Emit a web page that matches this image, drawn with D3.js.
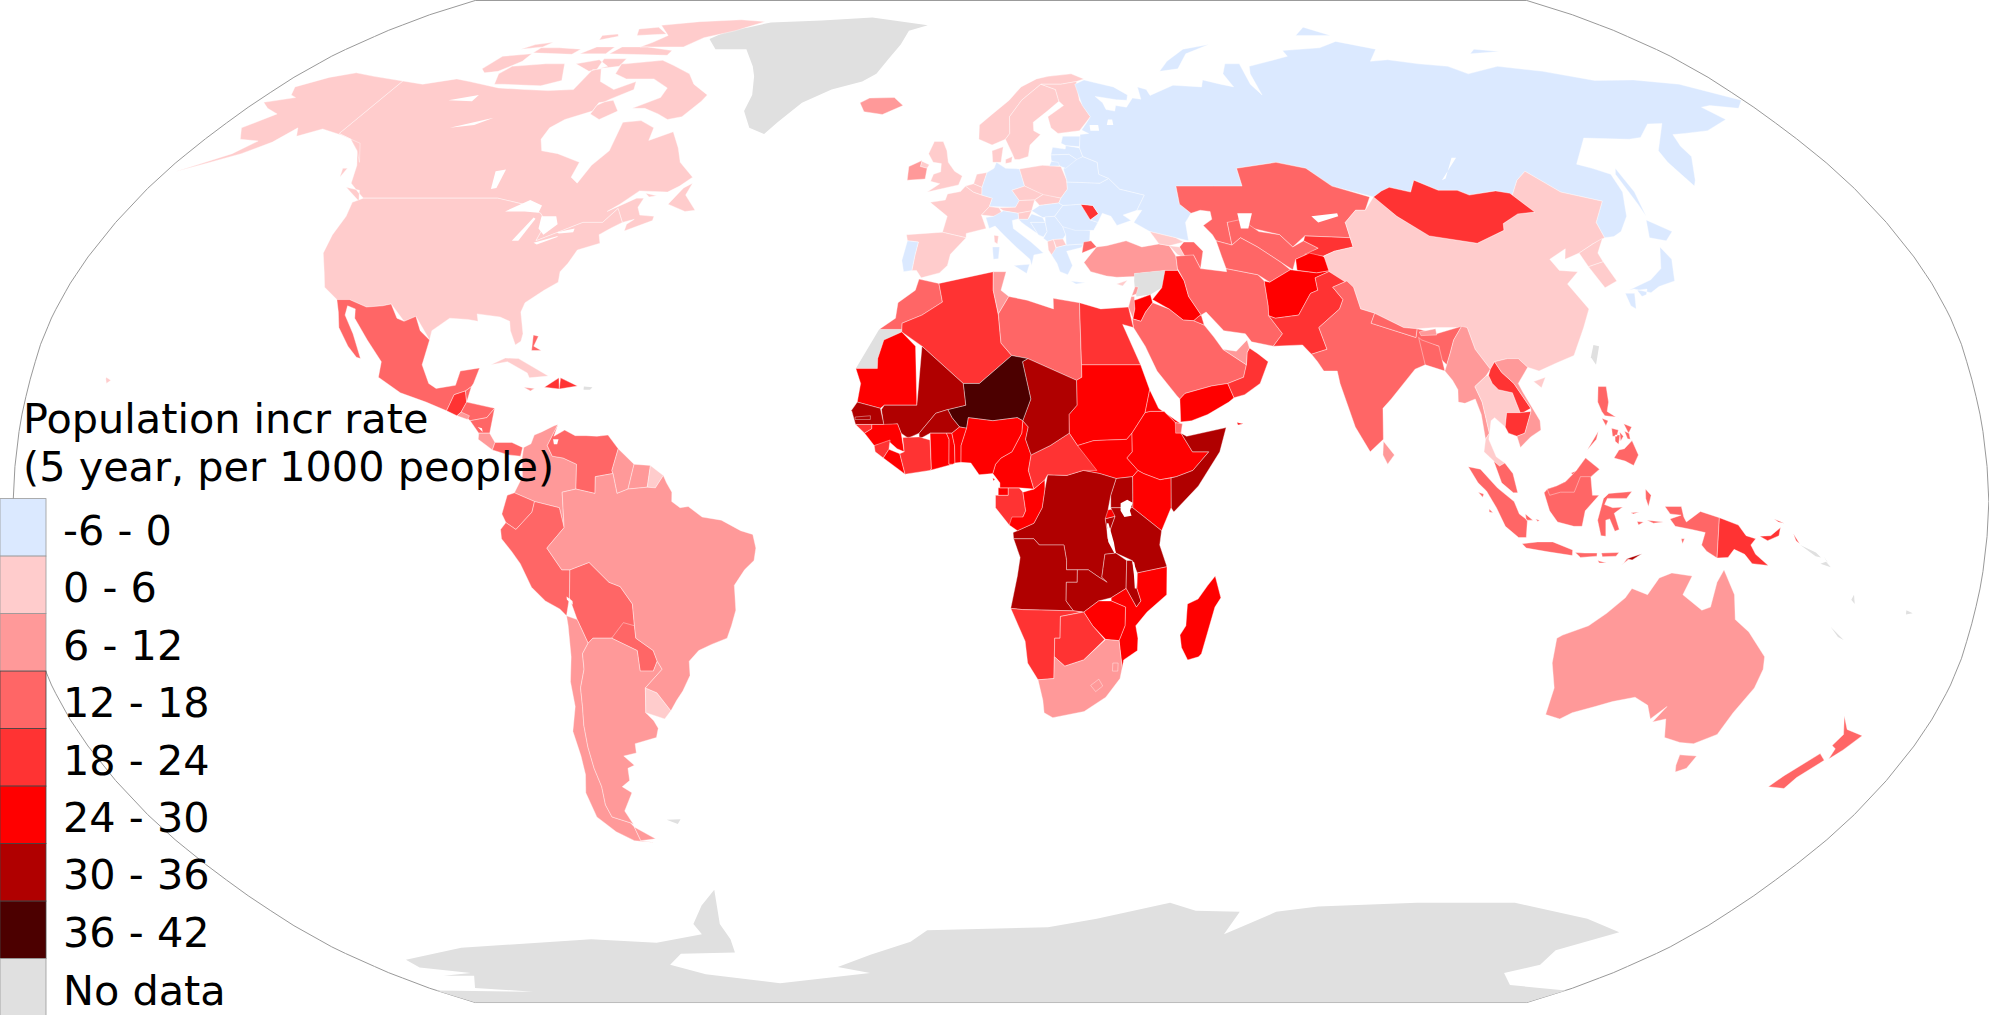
<!DOCTYPE html>
<html><head><meta charset="utf-8">
<style>html,body{margin:0;padding:0;background:#fff;overflow:hidden}text{font-family:"DejaVu Sans",sans-serif;fill:#000}</style>
<script src="https://cdn.jsdelivr.net/npm/d3@7"></script>
</head><body><svg id="c" width="1989" height="1015"></svg>
<script>
const legendLabels=["-6 - 0","0 - 6","6 - 12","12 - 18","18 - 24","24 - 30","30 - 36","36 - 42","No data"];
const legendColors=["#dbe9ff","#ffcccc","#ff9999","#ff6666","#ff3333","#ff0000","#b00000","#4c0000","#e0e0e0"];
const titleLines=["Population incr rate","(5 year, per 1000 people)"];
// each entry: name, rate class (index into legendLabels), then rings as flat lon,lat lists
const northAmerica=[
["Greenland",8,[-73,78.2,-68.5,76,-60,76,-55,72.5,-53,70.5,-51,67,-51,64,-48,61,-44,59.9,-42,62,-38,65.5,-32,68,-25,69.5,-22,71,-20,74,-18,77,-17,80,-12,81.5,-30,83.6,-45,82.8,-60,82.3,-65,81,-70,80]],
["Canada",1,[-123,49,-125,50,-128,51.5,-130,54.5,-133,57,-137,59,-141,60,-141,69.6,-135,69,-128,70,-124,69.5,-115,68.3,-108,68,-102,67.8,-96,68,-96,71.8,-94,72,-91,69.5,-86,68,-82,69.5,-81,68,-85,66.2,-87,65,-87,64,-92,62.5,-94,61,-94,59,-92,57,-88,56.5,-82,55,-82,52.5,-80,51.5,-79,54.5,-77,57,-78,62,-74,62.3,-70,61,-69.5,58.8,-65,60.3,-62,57.5,-60,55,-56,52.5,-58,51,-60,50,-66,50.2,-69,48,-71,46.8,-66,49,-64.5,49,-65,47.5,-64,46.2,-61,46,-61,45.3,-66,43.6,-66,44.7,-64.8,45.5,-67,45,-69,47.3,-71,45,-75,45,-79,43.5,-83,42,-82.5,45,-84.5,46.5,-89,48,-95,49],
 [-90,73,-89,73,-80,73.7,-76,72.7,-70,71,-67,69,-62,67,-62.5,65.8,-65,63,-68,62.5,-71,63.5,-75,64.5,-78,64.5,-73,66.5,-73,68.3,-78,70,-85,70,-89,71],
 [-117,69,-115,69,-105,68.7,-101,69.7,-105,73,-110,73,-118,72.5,-119,71],[-125,72,-123,71.2,-120,71.5,-117,73.5,-117,75,-124,74.5],
 [-90,76.5,-78,76.5,-75,78.5,-68,80,-62,82.5,-70,83,-82,82.5,-92,81.5,-86,79,-88,77.5],[-96,75,-80,74.7,-80,75.7,-88,76.5,-95,76.5],[-95,79,-87,79.3,-92,81,-97,80.5],
 [-117,75.2,-106,74.9,-105.5,76,-112,76.3,-117,76.3],[-104,75,-97,75,-97,76.5,-102,76.5],[-102,73,-97,73.8,-93,72.5,-96.5,71.5],[-96,74,-90,74,-90,72.5,-95,72],[-122,76,-117,76.5,-116,77.5,-120,77],[-104,78,-100,78.8,-101,79.3,-105,79],
 [-87,65.5,-84,66,-81,64,-84,62.5,-87,63.5],[-59,48,-57,50.7,-55.5,51.5,-56,49.5,-53,47,-55,46.8],[-128.3,50.8,-123.5,48.5,-125,50.3],[-64.5,49.8,-62,49.4,-63.5,49.2],[-132.5,54,-131.5,54,-131.5,52.5]],
["United States",1,[-123,49,-124.7,48.3,-124,46,-124.4,43,-124,40,-122,37,-120.5,34.5,-117.2,32.5,-114.8,32.5,-111,31.3,-108,31.5,-106.5,31.8,-103,29,-101,29.8,-97.3,26,-97.3,27.5,-94.5,29.5,-91,29.3,-89,29,-89.5,30.2,-85,29.7,-83,29,-82.5,27.5,-81,25.2,-80.1,25.8,-80,27,-81.3,30.5,-81,32,-78,34,-75.7,35.3,-76,37,-75,38.3,-74,40.5,-70,41.6,-70.8,43,-69,44,-67,45,-69,47.3,-71,45,-75,45,-79,43.5,-83,42,-82.5,45,-84.5,46.5,-89,48,-95,49],
 [-141,69.6,-141,60,-137,59,-133,57,-130,55,-134,58.3,-140,59.7,-146,60.8,-150,59.5,-152,61,-154,58.5,-158,56.5,-163,54.9,-168,53.4,-160,56.5,-157.5,58.7,-162,59,-165,61,-161,63.5,-165,64.5,-168,65.6,-162,66.5,-164,67,-166,68.5,-161,70.3,-156,71.2,-150,70.5],[-156,20,-155,19.5,-155.7,19,-156,19.7]],
["Mexico",3,[-117.2,32.5,-114.8,32.5,-111,31.3,-108,31.5,-106.5,31.8,-104.5,29.5,-103,29,-101,29.8,-99.5,27.5,-97.3,26,-97.8,22,-96,19,-94.5,18.2,-91,18.7,-90.5,21,-87,21.5,-87.7,19,-88,18.5,-89,17.8,-91,17.2,-92,14.6,-96,16,-101,17.5,-105.5,20,-105.5,22.5,-109,26,-112.5,29.5,-113,31,-114.7,31.5,-114.5,30,-112,27,-109.5,23,-110.3,23.2,-112.3,25,-115,28,-116,30.5]],
["Guatemala",4,[-92,14.6,-91,17.2,-89,17.8,-88.5,16,-89.3,14.4,-90,13.8]],
["Belize",3,[-89,17.8,-88,18.5,-88.5,16]],
["Honduras",3,[-89.3,14.4,-88.5,16,-83.2,15,-84.5,13.5,-87.5,13]],
["El Salvador",2,[-90,13.8,-89.3,14.4,-87.7,13.8,-88,13.2]],
["Nicaragua",3,[-87.5,13,-84.5,13.5,-83.2,15,-83.7,11,-85.7,11]],
["Costa Rica",2,[-85.7,11,-83.7,11,-82.6,9.5,-83,8.3,-85.7,10]],
["Panama",3,[-83,8.3,-82.6,9.5,-79.5,9.5,-77.5,8.7,-77.8,7.3,-80,7.5]],
["Cuba",1,[-85,22,-82.5,23.1,-80,23,-74,20.2,-77.5,19.9,-78,20.7,-82,22.5]],
["Jamaica",2,[-78.3,18.4,-76.3,18.2,-77,17.8]],
["Haiti",4,[-74.5,18.4,-72,19.9,-71.7,18.1]],
["Dominican Republic",4,[-71.7,19.9,-68.4,18.6,-71.7,18.1]],
["Puerto Rico",8,[-67.2,18.5,-65.6,18.4,-66,18,-67.2,18]],
["Bahamas",3,[-78,26.8,-77,26.6,-77.5,25,-76,24.3,-77.8,24.3]]];
const southAmerica=[
["Colombia",2,[-77.3,8.7,-76,9.3,-75.5,10.7,-74.2,11.2,-72,12.2,-71.3,12.4,-72,11,-73,9,-72,7.3,-70,7,-67.5,6,-67.5,2,-70,1.5,-69.7,-4.2,-70.5,-1,-75,0,-78.7,1.4,-77.3,4,-77.5,7]],
["Venezuela",3,[-71.3,12.4,-71.9,10.5,-70,11.5,-68,10.6,-66,10.6,-64,10.5,-62,10.7,-61,9.6,-60,8.5,-61,5,-60.8,4.5,-64,4,-64,1.3,-67.5,2,-67.5,6,-70,7,-72,7.3,-73,9,-72,11]],
["Guyana",2,[-60,8.5,-57,6,-58,2,-60,1.3,-60.8,4.5,-61,5]],
["Suriname",2,[-57,6,-54,5.8,-54.5,2.3,-58,2]],
["French Guiana",1,[-54,5.8,-51.6,4.2,-53,2.2,-54.5,2.3]],
["Ecuador",3,[-80,1,-78.7,1.4,-75,0,-75.5,-1.7,-78.5,-4.5,-80.3,-3.4,-81,-2]],
["Peru",3,[-81.3,-4.5,-80.3,-3.4,-78.5,-4.5,-75.5,-1.7,-75,0,-70.5,-1,-69.7,-4.2,-73,-7.5,-70.5,-11,-69,-11,-69.5,-15.5,-70.4,-18.4,-71.5,-17.3,-74,-16,-76.3,-13.8,-78,-10,-79.5,-8,-81.2,-6]],
["Bolivia",3,[-69,-11,-65.4,-9.8,-62,-13,-60,-13.7,-58,-16.5,-58,-20,-62.5,-22,-66,-22,-67,-22.8,-68.5,-19,-69.5,-15.5]],
["Paraguay",3,[-62.5,-22,-60,-19.5,-58,-20,-58,-22,-55,-24,-54.5,-25.7,-55.5,-27.3,-58,-27.3,-58,-24]],
["Chile",2,[-70.4,-18.4,-68.5,-19,-67,-22.8,-68.3,-24.5,-68.5,-27,-69.8,-30,-70.3,-33,-71,-36,-71.5,-39.5,-71.8,-43,-71.7,-46,-72.5,-49,-72.3,-51,-69,-52,-68.6,-52.7,-68.6,-55,-65.8,-55.3,-70,-55,-73,-53.5,-75.5,-51,-75.5,-47,-74,-44,-73.5,-41,-73.5,-37,-71.7,-33,-71.5,-29,-70.5,-25,-70.3,-20]],
["Argentina",2,[-66,-22,-62.5,-22,-58,-24,-58,-27.3,-55.5,-27.3,-54.5,-25.7,-53.8,-27,-57.5,-30,-58.4,-34,-57.2,-35.3,-56.7,-36.5,-57.5,-38,-62,-39,-62.3,-40.5,-65,-41,-63.5,-42.5,-65,-43,-65.5,-45,-67.5,-46,-66,-47,-69,-50,-68.5,-52.3,-69,-52,-72.3,-51,-72.5,-49,-71.7,-46,-71.8,-43,-71.5,-39.5,-71,-36,-70.3,-33,-69.8,-30,-68.5,-27,-68.3,-24.5,-67,-22.8],[-68.6,-52.7,-65.2,-54.7,-68.6,-55]],
["Uruguay",1,[-57.5,-30,-55.5,-30.8,-53.5,-33.7,-55,-35,-58.4,-34]],
["Brazil",2,[-51.6,4.2,-51,3,-50,1.5,-50,0,-48.5,-1,-47,-0.8,-44.5,-2.5,-41,-3,-37.5,-4.7,-35.3,-5.3,-34.8,-7.5,-35.2,-9.5,-37,-11,-39,-13.5,-39,-17.5,-40,-20,-41,-22,-44,-23,-46.5,-24,-48.5,-25.7,-48.7,-28,-50.5,-30.5,-52,-32,-53.5,-33.7,-55.5,-30.8,-57.5,-30,-53.8,-27,-54.5,-25.7,-55,-24,-58,-22,-58,-20,-58,-16.5,-60,-13.7,-62,-13,-65.4,-9.8,-69,-11,-70.5,-11,-73,-7.5,-69.7,-4.2,-70,1.5,-67.5,2,-64,1.3,-64,4,-60.8,4.5,-60,1.3,-58,2,-54.5,2.3,-53,2.2]],
["Falkland Islands",8,[-61,-51.5,-58,-51.4,-59,-52.2]]];
const europe=[
["Iceland",2,[-24,65.5,-22,66.4,-16,66.5,-13.5,65,-18,63.4,-22.5,63.9]],
["Norway",1,[5,59,5,61.5,8,63.5,12,66,15,68.5,19,70,22,70.5,28,71,31,70,29,69.5,25,69,20,69,15,66,12,63,12,60,11,59,8,58]],
["Sweden",1,[11,59,12,60,12,63,15,66,20,69,23.5,68,24,65.8,21,64,17.5,62,17.5,60.5,19,59.8,16.5,58,16,56,14,55.5,13,55.5,12.5,56.5]],
["Finland",1,[24,65.8,23.5,68,20,69,25,69,29,69.5,29,66,31,63,28,60.5,23,60,21.5,61,21,63,25,65]],
["Denmark",1,[8.2,55,8,57,10.5,57.7,10,55],[11,55.5,12.5,56,12.3,55,11,54.8]],
["United Kingdom",1,[-5.5,50,1,51.2,1.7,52.7,0,53.5,-1.5,55,-2,57,-3,58.6,-5,58.6,-6,56.5,-4.8,55,-3,54.8,-3,53.4,-4.5,53,-5,51.8,-3,51.4],[-7.3,55.2,-5.6,54.6,-6,54,-7.5,54.3]],
["Ireland",2,[-10,52,-6.2,52.2,-6,54,-7.5,54.3,-7.3,55.3,-10,54.3]],
["France",1,[-1.8,43.4,-1,46,-4.7,48.3,-1.6,48.7,-1.2,49.7,1.5,50.1,2.5,51,4.2,50,6,49.5,8.2,49,7.6,47.6,6,46.2,7,44,3,43.2,3,42.5],[8.6,42.9,9.5,42.8,9.3,41.5,8.7,41.8]],
["Spain",1,[-9,43,-1.8,43.4,3,42.5,0,39.8,-0.5,38,-2,36.8,-5.5,36,-6.5,37.2,-7.4,37.2,-7,39.6,-6.5,41.8,-8.7,42]],
["Portugal",0,[-8.7,42,-6.5,41.8,-7,39.6,-7.4,37.2,-9,37,-9.5,38.8]],
["Belgium",1,[2.5,51,4.2,51.4,6,50.8,6,49.5,4.2,50]],
["Netherlands",1,[4.2,51.4,4.8,53,7,53.3,6,50.8]],
["Germany",0,[6,50.8,7,53.3,8.5,54,9,55,11,54,14,53.9,15,51,12.3,50.3,13.8,48.6,13,47.5,7.6,47.6,8.2,49,6,49.5]],
["Poland",1,[14,53.9,19,54.5,23,54.3,24,52,24,50.5,22.5,49,19,49.4,15,51]],
["Czechia",1,[12.3,50.3,15,51,18.8,49.6,17,48.7,13.8,48.6]],
["Slovakia",1,[17,48.7,18.8,49.6,22.5,49,22,48.2,18,47.8]],
["Austria",1,[9.6,47.4,13,47.5,13.8,48.6,17,48.7,16.3,46.9,13.5,46.5,10.5,46.9]],
["Switzerland",1,[6,46.2,7.6,47.6,9.6,47.4,10.3,46.4,8.5,46]],
["Hungary",0,[16.3,46.9,18,47.8,22,48.2,22.8,47.8,21,46,18.5,45.8]],
["Slovenia",1,[13.5,46.5,16.3,46.9,15.5,45.5,13.6,45.5]],
["Croatia",0,[13.6,45.5,15.5,45.5,16.3,46.4,18.5,45.8,19,45,16,45,17.5,43,18.5,42.5,15,44.5,14.2,45]],
["Bosnia",0,[16,45,19,45,19.3,43.5,18.5,42.6,17.5,43]],
["Serbia",0,[19,45.9,21,46,22.5,44.3,23,43,22.4,42.3,20.5,42.2,19.3,41.9,18.5,42.4,19.3,43.5,19,45]],
["Albania",1,[19.3,41.9,20.5,42.2,21,40.5,20,39.7,19.4,40.5]],
["Macedonia",1,[20.5,42.2,22.4,42.3,23,41.3,21,40.9]],
["Greece",0,[20,39.7,21,40.9,23,41.3,26.5,41.5,26,40.9,23,40.3,24,38,23,36.5,21.5,37,21,38.3],[23.5,35.5,26.3,35.2,24.5,35]],
["Bulgaria",0,[22.5,44.3,28,43.7,27.7,42,26.5,41.5,23,41.3,23,43]],
["Romania",0,[21,46,22.8,47.8,26.5,48,28.2,45.4,29.7,45,28.7,43.7,25,43.7,22.5,44.3]],
["Moldova",4,[26.5,48,29,47.8,30,46.4,28.2,45.4]],
["Ukraine",0,[22.5,49,24,50.5,24,51.7,31,51.5,33,52.3,35,50.5,40,49.5,38,47,35,46.2,36.5,45.3,33.5,44.5,32.5,46,30.8,46.5,29.7,45,28.2,45.4,30,46.4,29,47.8,26.5,48,22.8,47.8,22,48.2]],
["Belarus",0,[24,52,23.5,53.9,26,55.5,28,56,31,55,31,53,33,52.3,31,51.5,24,51.7]],
["Lithuania",0,[21,55.3,21,56.3,25,56.4,26.6,55.5,24,54,23,54.3]],
["Latvia",0,[21,56.3,21.5,57.6,24.3,57.3,24.5,57.9,27.5,57.5,28,56,26.6,55.5,25,56.4]],
["Estonia",0,[23.5,58.3,24,59.5,28,59.5,27.5,57.7,24.5,57.9]],
["Italy",0,[7.6,44,6.9,45.8,8.5,46,10.5,46.9,13.5,46.5,13.6,45.6,12.3,45.3,12.5,44,16,41.8,18.4,40,16.5,39.7,16,38,15.7,39,13,41,10.5,43,8.8,44.4],[12.5,38,15.6,38.2,15,36.7],[8.3,41,9.7,41,9.5,39.1,8.5,39]],
["Russia",0,[28,59.8,30,60,28.5,60.6,30,62,31,63,29.5,65,29,67,28.5,69,31,69.8,33,69.4,38,68.5,41,67,40.5,66,38,66.1,34,66.6,33,66.7,34.5,65.5,35,64.3,37,64,37.5,65,40,64.7,42,66.4,44,66.2,44,68.5,46,68,46.5,66.9,53,68.8,60,68.5,61,69.8,65,69,68,68.5,67,71,69,73,72.8,73,72.5,69,74,67,74,71,75,72.5,81,73.5,87,74.5,87,75.7,98,76.3,104.5,77.7,113,76,108,73.5,113,73.8,120,73,127,72.5,130,71,140,72.5,150,71.5,160,69.7,170,69.8,180,69,189.5,66,186,64.5,180,65,177.5,64.7,179.5,62.5,172,60.5,166,60,163,59.8,162,57.8,162,56,158,52,156.7,51,155.5,55,156,57,163.5,61.8,160,61.7,155,59.3,152,59,142,59.2,135.3,54.7,138,54,141,53,140.5,50,138,46,135,43.5,133,42.7,131,42.5,131,45,135,48.5,127.5,50,123,53.5,120,52,117,49.5,114,50.2,108,49.5,106,50.3,102,50.3,98,52,96,50,92,50.8,87.8,49.2,80,51,76,54,70,55,61,54,61,51,55,51,47,51,47,48,49,46.5,47.5,45,47.5,42,48.5,41.8,45,42.5,40,43.5,37,45,39,47,38,47,40,49.5,35,50.5,33,52.3,31,53,31,55,28,56,27.5,57.5],
 [51,71.5,56,72,60,75,68,77,60,76,54,73.5],[142,46,143,50,143,54,142,53,142,48],[95,79,105,79,100,81],[137,75,146,75.5,140,76],[20.5,54.4,22.7,54.4,22.5,55,21,55.2]]];
const asia=[
["Turkey",2,[26.3,38.5,27.5,37,30.5,36.3,32.5,36.1,36,36.2,36,36.7,42,37.2,44.5,37.2,44.5,39.5,43.5,41.2,41.5,41.5,38,41,35,42,31,41.2,29,41]],
["Turkish Thrace",3,[26,40,26.5,41.8,28,42,29,41]],
["Cyprus",1,[32.3,35,34.5,35.6,33.5,34.7]],
["Georgia",1,[40,43.5,45,42.5,46.5,41.8,43.5,41.2,41.5,41.5]],
["Armenia",1,[43.5,41.2,45.5,41,46.5,39,44.8,39.8]],
["Azerbaijan",3,[45.5,41,46.5,41.8,48.5,41.8,50,40.3,49,37.5,48,39.7,46.5,39]],
["Syria",8,[35.8,35.5,36,36.7,42,37.2,41,34.4,38.7,33.3,36,33,35.8,34.6]],
["Lebanon",2,[35.1,33.1,36,33.4,36.5,34.5,35.9,34.6]],
["Israel",2,[34.3,31.3,35,29.5,35.5,31,35.6,33,35,33]],
["Jordan",5,[35,29.4,36.5,29,37.5,30.5,39,32,38.7,33.3,36,32.5,35.5,32.4,35.5,31]],
["Iraq",5,[39,32.5,41,34.4,42,37.2,44.5,37.2,45.5,35.5,46,33,48,30,47.5,29.8,46.5,29.1,44.5,29.2,42,31]],
["Saudi Arabia",3,[34.9,29.4,36.5,29,37.5,30.5,39,32,42,31,44.5,29.2,46.5,29.1,48.4,28.4,50,26.5,51.5,24.5,55.7,22,55,20,52,19,49,18.6,44,17.4,43,16.5,42.5,17,39,21,37,25,35,28]],
["Kuwait",4,[46.5,29.1,48.4,28.4,48,30,47.5,29.8]],
["Yemen",5,[43,12.8,45,13,48,14,52,16,53,16.7,52,19,49,18.6,44,17.4,43,16.5],[53.3,12.7,54.5,12.5,53.5,12.3]],
["Oman",4,[52,19,53,16.7,55,17.2,58,19,59.8,22.5,58,23.8,56.5,24.7,56,24,55.7,22,55,20]],
["UAE",2,[51.5,24.5,54,24.2,56.2,26,56.5,24.7,56,24,55.7,22]],
["Iran",3,[44.5,39.5,48,39.7,49,37.5,54,37,54,37.5,60,36.5,61,35.5,61,31.5,60.8,29.9,63,27,61,25,57,25.7,56,27,52,27.5,49,30.5,48,30,46,33,45.5,35.5,44.5,37.5]],
["Kazakhstan",3,[47,51,55,51,61,51,61,54,70,55,76,54,80,51,87,49.2,85,47,83,47,80,45,80,42.5,71,42.8,68,41,66,43,61,44,56,45,56,41.3,53,42,52.5,43,51,44.5,53,45.5,53,46.8,51,47,49,46.5,47,48]],
["Uzbekistan",3,[56,41.3,56,45,59,45.5,62,43.5,66,43,68,41,70.5,42,73,40.8,71,40,68,39,67,37.3,65,38.5,61,41,58,42.5]],
["Turkmenistan",3,[53,42,56,41.3,58,42.5,61,41,65,38.5,66.5,37.3,62,35.3,60,36.5,54,37.5,53.5,39.5]],
["Kyrgyzstan",4,[70.5,42,71,42.8,80,42.5,80,41,76,40.3,73.5,39.5,70,39.8,73,40.8]],
["Tajikistan",5,[68,39,71,40,73.5,39.5,75,38.5,74.5,37.2,71.5,36.8,68,37.2,67.8,37.3]],
["Afghanistan",5,[61,35.5,62,35.3,66.5,37.3,71.5,36.8,74.5,37.2,71,36,71,34,69.5,33.5,66.5,30,62,29.5,60.8,29.9,61,31.5]],
["Pakistan",4,[61,25,66.5,25.2,68,23.7,71,24.5,70,28,74.5,31,75.5,32.5,74,34.5,77,35.5,74.5,37.2,71,36,71,34,69.5,33.5,66.5,30,62,29.5,60.8,29.9,63,27]],
["China",1,[73.7,39.5,76,40.3,80,41,80,42.5,80,45,83,47,85,47,87.8,49.2,91,46,96,42.8,105,41.6,111.5,43.7,112,44.8,116,46.4,119.7,46.7,116.7,49.8,117,49.5,120,52,123,53.5,127.5,50,135,48.5,131,45,131,42.5,128,41.5,124.3,40,121,39,122,40.7,118,39,119,37.2,122.5,37,119.5,35,122,31,120,28,117,23.5,113.5,22.3,110,21,108,21.6,106.5,23,104.5,23,102,22.5,101,21.3,98.7,24.5,98,28,92,28,88.5,27.8,86,28,81,30.3,78.5,31,78,34.5,74,37],[108.7,19.3,111,20,110,18.3]],
["Mongolia",4,[87.8,49.2,90,50.2,92,50.8,96,50,98,52,102,50.3,106,50.3,108,49.5,114,50.2,116.7,49.8,119.7,46.7,116,46.4,112,44.8,111.5,43.7,105,41.6,96,42.8,91,46]],
["India",3,[68,23.7,71,24.5,70,28,74.5,31,75.5,32.5,74,34.5,77,35.5,78,34.5,78.5,31,81,30.3,80,28.7,88,26.4,88.5,27.8,92,27,97,28.2,95,26,94,24,93,22,92.5,22.5,91.5,23.5,92,25,89.8,25.5,89,22,87,21.3,82,16.5,80.3,15,80,10,77.5,8,75,12,72.8,19,72.5,21,70,21,69,22.5]],
["Nepal",3,[81,30.3,86,28,88.5,27.8,88,26.4,80,28.7]],
["Bhutan",2,[88.8,27.3,92,27.8,92,26.8,89,26.7]],
["Bangladesh",3,[88.5,26.4,89,26,92,25,92.5,21,89,22]],
["Sri Lanka",2,[80,9.7,81.9,7.5,80.6,6,79.8,7.5]],
["Myanmar",2,[92.5,21,93,22,94,24,95,26,97,28.2,98,28,98.7,24.5,101,21.3,100,20.2,97.7,18.5,98.7,16,99,14,99.5,11,98.7,10,98.3,14,97.5,16.5,95.5,15.8,94.3,16,94.5,18,93.7,19.5]],
["Thailand",1,[98.7,16,97.7,18.5,100,20.2,100.5,20.3,101,19,102,18,104.5,17.5,105,15.8,105.5,14.3,103,14.3,102.5,12,100.7,13.5,100,13,99.3,10,100.5,7.2,102,6.2,101,5.7,100,6.5,98.3,8,98.7,10,99.5,11,99,14]],
["Laos",4,[100.5,20.3,101,21.3,102,22.5,103,20.8,105,19,107.5,15,106,14.3,105.5,14.3,105,15.8,104.5,17.5,102,18,101,19]],
["Cambodia",4,[102.5,12,103,14.3,105.5,14.3,107.5,14.5,106,11,104.5,10.5,103,11]],
["Vietnam",2,[102,22.5,104.5,23,106.5,23,108,21.6,105.8,19,106.5,17.5,109,13,109,11.5,107,10.4,105,8.7,104.5,10.5,106,11,107.5,14.5,107.5,15,105,19,103,20.8]],
["North Korea",1,[124.3,40,128,41.5,130.5,42.4,128,40,128.3,38.6,125,37.8]],
["South Korea",1,[125,37.8,128.3,38.6,129.3,35.5,126.5,34.4]],
["Japan",0,[130.9,34,136,35.7,139,37.5,141,41,142,39,140.5,35.5,137,34.6,135,33.6,132,34.2],[140,42.5,141.5,45.4,145.3,43.5,143,42],[130,33.5,131.8,33.5,131,31,130.2,31.5],[132.5,34,134.5,34.2,134,33.3,133,33]],
["Taiwan",8,[121,25.2,122,25,120.8,22,120.1,23.2]],
["Philippines",3,[120.5,18.5,122,18.5,122,16,121.5,14.5,124,13,123,13.6,121,13.8,120.5,14.5,120,16],[122,7,123,8.3,124,8.5,125.5,9.8,126.5,7.5,125.5,5.8,124,6.5],[117.2,8.3,119.5,11.3,119,10],[122,11.8,123.2,11.5,122.8,10.5,122,10.5],[122.5,10.7,123.4,10.7,123,9.2,122.4,9.7],[124.3,12.5,125.7,12,125,11],[124.3,11.3,125.1,11,125.2,10,124.7,10.1],[120.4,13.4,121.5,13,121,12.2],[123.4,11.2,124,10.5,123.4,9.7]],
["Indonesia",3,[95.3,5.6,97.5,5.2,100.5,2.2,103.5,0,104.5,-2,106,-3,105.9,-5.8,104.5,-5.8,102,-4,100.3,-1,98.5,1.7,97,3],[105.2,-6.8,108,-6.5,110.8,-6.5,114.5,-7.8,114.5,-8.7,110,-8.1,106,-7.5],[109,1.4,109.6,2,111.3,2.5,113,3.2,115,5,116.8,7,119.2,5.2,117.6,4,117.8,1,119,1,116.5,-1.5,116,-4,114.5,-4,111.5,-3.3,110,-1.5],[119.5,-5.5,118.8,-3,119.8,0.5,120.8,1.3,125,1.6,124,0.5,120.5,0.5,120,-0.5,121.5,-1,123.3,-0.9,121.8,-1.9,122.8,-4.5,122,-4.8,121,-2.8,120.3,-3,120.4,-5.6],
 [131,-0.8,134,-0.8,134.5,-2.5,135,-3.3,137.5,-1.6,141,-2.6,141,-9.1,139,-8,138,-7,138.5,-5,136,-4.5,133,-4,132,-2.8,134,-2.2,132,-2],[115,-8.2,116.7,-8.3,119,-8.3,119,-8.8,116,-9],[119.8,-8.3,123,-8.2,122.5,-8.8,120,-8.9],[119.2,-9.5,120.8,-9.9,119.5,-9.9],[123.5,-10.3,125,-9.2,124.5,-9.2,124,-9.9],[127.5,2,128.5,1,128,-0.8,127.5,0.5],[127.8,-3,130.8,-3.3,129,-3.5],[126,-3.2,127.2,-3.3,126.3,-3.8],[124.8,-1.8,126.3,-1.7,125.3,-2],[105.6,-2,107,-3,106.5,-3,105.8,-3],[107.5,-2.8,108.2,-3,107.9,-3.2],[97,1.5,98,1.2,97.8,0.7],[134.2,-6,134.8,-6,134.5,-6.8],[99,-1.2,99.7,-1.8,99,-1.7]],
["Brunei",3,[114,4.6,115.2,5,114.8,4]],
["Malaysia",3,[100,6.5,101,5.7,102,6.2,103.4,4.5,104.2,1.4,103.4,1.4,101.3,3],[109.6,2,111.3,2.5,113,3.2,115,5,116.8,7,119.2,5.2,117.6,4,115.7,4,114.5,1.5,112,1.5,110,1]],
["Timor-Leste",6,[124.5,-9.2,127.2,-8.4,125.5,-9.4]],
["Papua New Guinea",4,[141,-2.6,144.5,-3.8,146,-5.5,147.8,-6,147,-7,148,-8.5,150.5,-10.3,147.5,-10,146,-8.5,144,-7.7,143,-9,141,-9.1],[148.5,-5.6,150.5,-5.5,152.2,-4.2,152,-5.5,150,-6.3],[152.8,-3.5,151,-2.8,151.8,-3.3],[154.6,-5.2,155.9,-6.8,155.2,-6.3]],
["Solomon Islands",8,[156,-7,159,-8.2,160,-9,159,-8.8,156.5,-7.3],[160,-10,162,-10.6,161,-9.7],[160.5,-8.8,161.5,-10,161,-9.5]],
["New Caledonia",8,[164,-20.2,167,-22.3,165.8,-21.8]],
["Vanuatu",8,[167,-15,167.5,-16.5,166.7,-15.8]],
["Fiji",8,[177.3,-17.5,178.6,-18,177.4,-18.2]]];
const africa=[
["Morocco",3,[-5.9,35.8,-2,35.1,-1.2,32.1,-5,30,-8.7,28.7,-8.7,27.7,-13,27.7,-10,29.5,-9.7,32,-6.5,34]],
["Western Sahara",8,[-8.7,27.7,-13,27.7,-17,21.4,-13,21.4,-13,23,-12,26,-8.7,26]],
["Mauritania",5,[-17,21.4,-16,19,-16.5,16,-12.2,15,-11.5,15.5,-5.5,15.5,-6,25,-8.7,27.3,-12,26,-13,23,-13,21.4]],
["Algeria",4,[-2,35.1,8.5,37,8.5,34,9.5,30,10,25.5,12,23.5,6,19,3,19,-4.8,25,-8.7,27.3,-8.7,28.7,-5,30,-1.2,32.1]],
["Tunisia",2,[8.5,37,11,37,10,34,11.5,33,9.5,30.2,8.5,34]],
["Libya",3,[11.5,33,15,32.4,20,31,20,32.7,25,32,25,20,24,19.5,15,23,12,23.5,10,25.5,9.5,30.2]],
["Egypt",4,[25,32,29,31,34.3,31.3,35,28,33,28.5,36,22,25,22]],
["Sudan",5,[25,22,36,22,37.5,18,36.5,14.3,34,11,33,10,27,9.8,24,9,22.5,11,22.5,14,24,15.5,24,19.5,25,20]],
["South Sudan",5,[24,9,27,9.8,33,10,34,11,34,8,33,7,35,5,34,4,31,3.7,28,4.5,25,5]],
["Eritrea",5,[36.5,14.3,37.5,18,39,15,43,12.5,42,12.7,40,14.5,37.5,14.5]],
["Ethiopia",5,[34,11,36.5,14.3,37.5,14.5,40,14.5,42,12.7,43,11,45,8,48,8,45,5,42,4,39,3.5,36,4.5,35,5,33,7,34,8]],
["Djibouti",3,[42,12.7,43.3,12.5,43,11,42,11]],
["Somalia",6,[43,11,44,10.5,51.3,11.9,50,8,46,2.5,41.5,-1.7,41,-1,41,3.8,42,4,45,5,48,8,45,8]],
["Kenya",5,[34,4,35,5,36,4.5,39,3.5,41,3.8,41,-1,39.3,-4.7,34,-1,34,0.5]],
["Uganda",6,[30,-1,34,-1,34,0.5,34,4,31,3.7,30,1]],
["Rwanda",5,[29,-1.4,30.5,-1.2,30.8,-2.4,29,-2.8]],
["Burundi",6,[29,-2.8,30.8,-2.4,30,-4.4,29.3,-4.4]],
["Tanzania",6,[30,-1,34,-1,39.3,-4.7,39,-7,40.4,-10.5,35,-11.5,34,-9.5,31,-8.3,29.5,-6,30,-4.4,30.8,-2.4]],
["DR Congo",6,[12.3,-6,12.2,-5,13,-4.7,16,-3.5,17.5,-1,18,2,18.5,4.3,22,4.2,25,5,28,4.5,31,3.7,30,1,29.5,-1.4,29,-2.8,29.3,-4.4,29.5,-6,31,-8.3,29,-8.5,28.5,-12.2,29.5,-13,28,-12.2,26,-11,22,-11,22,-9.5,21.5,-7,17,-7,16,-6]],
["Angola",6,[11.8,-17.2,13,-12,13.5,-9,12.3,-6,16,-6,17,-7,21.5,-7,22,-9.5,22,-11,24,-11,24,-13,22,-13,22,-16,23.4,-17.6,19,-17.5,14,-17.4]],
["Zambia",6,[22,-13,24,-13,24,-11,26,-11,28,-12.2,29.5,-13,28.5,-12.2,29,-8.5,31,-8.3,33,-9.5,33,-14,30.3,-15.5,28,-16,25.3,-17.8,23.4,-17.6,22,-16]],
["Malawi",6,[33,-9.5,34,-9.5,35,-14,35.8,-16,35,-17,33,-14]],
["Mozambique",5,[40.4,-10.5,35,-11.5,35,-14,35.8,-16,35,-17,33,-14,30.3,-15.5,30.3,-16,33,-17,33,-20,32,-22.4,32.8,-26.8,33,-25.5,35.5,-24,35.5,-22,35,-20,37,-17.8,40.5,-15]],
["Zimbabwe",5,[25.3,-17.8,28,-16,30.3,-16,33,-17,33,-20,32,-22.4,29.5,-22.2,27,-20]],
["Namibia",4,[11.8,-17.2,14,-17.4,19,-17.5,23.4,-17.6,25,-17.8,21,-18.5,21,-22,20,-22,20,-28.5,17,-28.7,15,-26,14.5,-22.5]],
["Botswana",4,[21,-18.5,25.3,-17.8,27,-20,29.3,-22.2,25.5,-25.5,22,-26.5,20,-25,20,-22,21,-22]],
["South Africa",2,[17,-28.7,20,-28.5,20,-25,22,-26.5,25.5,-25.5,29.5,-22.2,32,-22.4,32.8,-26.8,32.5,-28.5,30,-31.5,26,-33.8,20,-34.8,18.3,-34,18,-32]],
["Lesotho",2,[27,-29.6,28.5,-28.6,29.3,-29.7,28,-30.6]],
["Swaziland",2,[31,-26,32,-26,32,-27.3,31,-27.3]],
["Gabon",4,[9,1,11.3,1,11.3,2.2,13.3,2.2,14,1.5,14.5,-1.5,14,-2.5,11.5,-3.8,9,-1]],
["Congo",5,[11.5,-3.8,13,-4.7,16,-3.5,17.5,-1,18,2,18,3.5,16,2,14,1.5,14.5,-1.5,14,-2.5,12,-2.5]],
["Equatorial Guinea",5,[9.5,2.2,11.3,2.2,11.3,1,9.5,1],[8.5,3.8,8.9,3.6,8.6,3.3]],
["Cameroon",5,[8.5,4.5,9.8,3,9.8,2.2,13.3,2.2,16,2,15,5,15.5,7.5,14.5,10,15,12,14,13,13.8,11,12,8,10,7,9,6]],
["Central African Republic",4,[15,5,16,2,18,3.5,18.5,4.3,22,4.2,25,5,27.5,5,24,9,22.5,11,19,9,15.5,7.5]],
["Chad",6,[14,13,15,12,14.5,10,15.5,7.5,19,9,22.5,11,22.5,14,24,15.5,24,19.5,15,23,14,22.5,15.5,16.5]],
["Niger",7,[3,19,6,19,12,23.5,15,23,14,22.5,15.5,16.5,14,13,13,13.5,8.5,13,4,13.5,3.7,11.8,2.4,12,1,13.5,0.2,14.8,3.5,15.5]],
["Mali",6,[-4.8,25,3,19,3.5,15.5,0.2,14.8,-2,14.2,-5,11,-7,10.2,-8.3,11,-9,12.5,-11.5,12.2,-12,14.8,-11.5,15.5,-5.5,15.5]],
["Burkina Faso",6,[-5,11,-2,14.2,0.2,14.8,1,13.5,2.4,12,1,11,-3,11,-5,10]],
["Senegal",6,[-17.5,14.7,-16.5,16,-12.2,15,-11.5,12.4,-16.7,12.4]],
["Gambia",6,[-16.8,13.6,-14,13.8,-14,13.2,-16.8,13.2]],
["Guinea-Bissau",4,[-16.7,12.4,-13.7,12.4,-13.7,11.7,-15,11]],
["Guinea",5,[-15,11,-13.7,11.7,-13.7,12.4,-11.5,12.4,-9,12.5,-8.3,11,-7.7,8,-9,8.5,-10.3,9.5,-13.2,9]],
["Sierra Leone",4,[-13.2,9,-10.3,9.9,-10.5,8.4,-11.5,7,-13,8]],
["Liberia",5,[-11.5,7,-10.5,8.4,-8.5,7.7,-7.5,4.4]],
["Ivory Coast",4,[-7.5,4.4,-8.5,7.7,-7.7,8,-8,10.3,-5,10.4,-3,9.9,-2.7,5.2,-3,5]],
["Ghana",5,[-3,5,-2.7,5.2,-3,11,0,11,0.5,10,0.5,6,1.2,6]],
["Togo",5,[0,11,1,11,1.5,9,1.6,6.2,1.2,6,0.5,6,0.5,10]],
["Benin",5,[1,11,2.4,12,3.7,11.8,2.7,9,2.7,6.3,1.6,6.2,1.5,9]],
["Nigeria",5,[2.7,6.3,2.7,9,3.7,11.8,4,13.5,8.5,13,13,13.5,14,13,13.8,11,12,8,10,7,9,6,8.5,4.5,6,4.3,4.5,6.2]],
["Madagascar",5,[49.3,-12,50.5,-15.5,49.5,-17,47.5,-24.5,47,-25,45,-25.5,43.7,-23.5,43.3,-21.5,44.3,-20,44.4,-16.5,46.3,-15.7,48,-13.5]]];
const oceania=[
["Australia",2,[113.5,-22,113.5,-26,115,-30,115,-34.3,118,-35,120,-34,124,-33,127,-32.2,131,-31.5,134,-32.8,135.5,-35,137.8,-33,136.2,-35.5,138.5,-35,140,-38,143.5,-38.8,146.3,-39,150,-37.5,151,-34,153,-30,153.5,-27,153,-25,149,-21,146,-19,145,-15,142.5,-11,141.5,-13,141,-17,139.5,-17.5,135.5,-15,136.8,-12,133,-11.5,130.8,-12.3,129,-15,126,-14,125,-15.5,122,-18,119,-20,114.5,-21.5],[144.8,-40.8,148.3,-41,147.8,-43,146,-43.6,145.3,-42.5]],
["New Zealand",3,[172.7,-34.5,174.8,-36.7,178.5,-37.7,176.5,-40,175,-41.5,174.8,-39.8,173.8,-39.3,174.7,-37.5],[172.5,-40.6,174.3,-41.7,171.3,-44.5,170.5,-46.3,167,-46,168.5,-44.2]],
["Antarctica",8,[-157.7,-79,-157,-77.3,-135.5,-74.7,-98,-73,-81.6,-73.7,-67.8,-72,-68,-70,-63,-66.5,-57.8,-63.6,-61.3,-70,-61.3,-73,-62.8,-75.7,-78,-76,-84.5,-78.4,-77.4,-80.6,-58,-83,-28.5,-80.2,-37,-78.9,-26,-76.2,-14,-73.5,-9,-71.2,22,-70.6,34,-69,51,-66,58,-67.5,69,-67.7,68,-72,72,-70.3,78,-67.7,87.5,-66.7,110.8,-66,134.6,-66,157,-69,170,-71.6,160.6,-75.2,164,-78.4,158,-80.2,168,-83.5,189.9,-85,189.9,-90,-169.9,-90,-169.9,-85,-140,-85.5,-155.5,-84.3,-147,-81,-156,-81,-146,-80.2]]];
const lakes=[
["Superior",[-92,46.8,-88,48.7,-85,47.8,-85,46.6,-88,46.8]],["Michigan",[-87.8,42,-85.5,45.8,-85,45.6,-86.5,42]],["Huron",[-84,46,-81,46,-80,44.7,-82,43,-83.5,44]],["Erie",[-83.3,41.7,-79,42.8,-79,42.6,-82.5,41.4]],["Ontario",[-79.5,43.4,-76.2,44,-76.2,43.4,-79,43.2]],
["Great Bear",[-124,66,-118,67,-118,65.8]],["Great Slave",[-117,61,-109,62.8,-112,61.5]],["Winnipeg",[-99,53.5,-97,53.8,-96.5,50.7,-97.5,50.5]],
["Aral",[58.5,46.5,61.5,46.5,60,44,58.5,44]],["Balkhash",[73.5,46,79,46.5,79,46,74.5,45]],["Baikal",[104,52,110,55.8,109,55.8,105,52.3]],
["Ladoga",[30.5,60.5,32.5,60.5,32.5,61.5,30.5,61.5]],["Onega",[34.5,61.5,36,61.5,36,62.5,35,62.5]],
["Titicaca",[-70,-15.3,-69,-16,-69,-16.6,-70,-15.8]],["Maracaibo",[-72,10,-71,10,-71.2,9.2,-71.8,9.2]],["Nicaragua",[-86,12,-85,11.2,-85.2,11.8]],
["Victoria",[31.8,-0.3,33,0.3,34,-0.2,33.5,-1.5,33.8,-2.3,32.5,-2.5,31.8,-1.5]],["Tanganyika",[29.3,-3.5,29.6,-3.5,30.6,-6.5,31,-8.3,30.7,-8.3,29.6,-6.5]],["Malawi",[34.1,-9.6,34.4,-9.8,34.9,-12,34.9,-14,34.6,-14,34.4,-12]]];

const X=[1,.9986,.9954,.99,.9822,.973,.96,.9427,.9216,.8962,.8679,.835,.7986,.7597,.7186,.6732,.6213,.5722,.5322];
const Y=[0,.062,.124,.186,.248,.31,.372,.434,.4958,.5571,.6176,.6769,.7346,.7903,.8435,.8936,.9394,.9761,1];
function robinson(l,p){const a=Math.abs(p)*180/Math.PI/5,i=Math.min(17,Math.floor(a)),f=a-i;
 return [.8487*(X[i]+(X[i+1]-X[i])*f)*l,1.3523*(Y[i]+(Y[i+1]-Y[i])*f)*(p<0?-1:1)];}
const projection=d3.geoProjection(robinson).rotate([-10,0]).scale(370.5).translate([1001,501.5]).precision(.3);
const svg=d3.select("#c");
const line=d3.line().x(d=>projection(d)[0]).y(d=>projection(d)[1]);
const toPairs=r=>d3.range(0,r.length,2).map(i=>[r[i],r[i+1]]);
const ringPath=r=>line(toPairs(r))+"Z";
svg.append("path").datum({type:"Sphere"}).attr("d",d3.geoPath(projection)).attr("fill","none").attr("stroke","#999").attr("stroke-width",1);
const countries=[...northAmerica,...southAmerica,...europe,...asia,...africa,...oceania];
svg.append("g").selectAll("path").data(countries).join("path")
 .attr("d",d=>d.slice(2).map(ringPath).join(""))
 .attr("fill",d=>legendColors[d[1]]).attr("fill-rule","evenodd")
 .attr("stroke",d=>d[1]===8?"none":"#fff").attr("stroke-width",.7).attr("stroke-opacity",.55)
 .append("title").text(d=>d[0]);
svg.append("g").selectAll("path").data(lakes).join("path").attr("d",d=>ringPath(d[1])).attr("fill","#fff");
const lg=svg.append("g");
const rowTop=i=>498.6+57.5*i;
lg.selectAll("rect").data(legendLabels).join("rect").attr("x",0).attr("y",(d,i)=>rowTop(i)).attr("width",46).attr("height",57.5)
 .attr("fill",(d,i)=>legendColors[i]).attr("stroke",(d,i)=>i<3||i===8?"#999":"#444").attr("stroke-width",.8);
lg.selectAll("text.l").data(legendLabels).join("text").attr("class","l").attr("x",63).attr("y",(d,i)=>545+57.4*i+(i===8?1:0)).attr("font-size",41.4).text(d=>d);
lg.selectAll("text.t").data(titleLines).join("text").attr("class","t").attr("x",23).attr("y",(d,i)=>432.6+48.5*i).attr("font-size",41.4).text(d=>d);
</script></body></html>
